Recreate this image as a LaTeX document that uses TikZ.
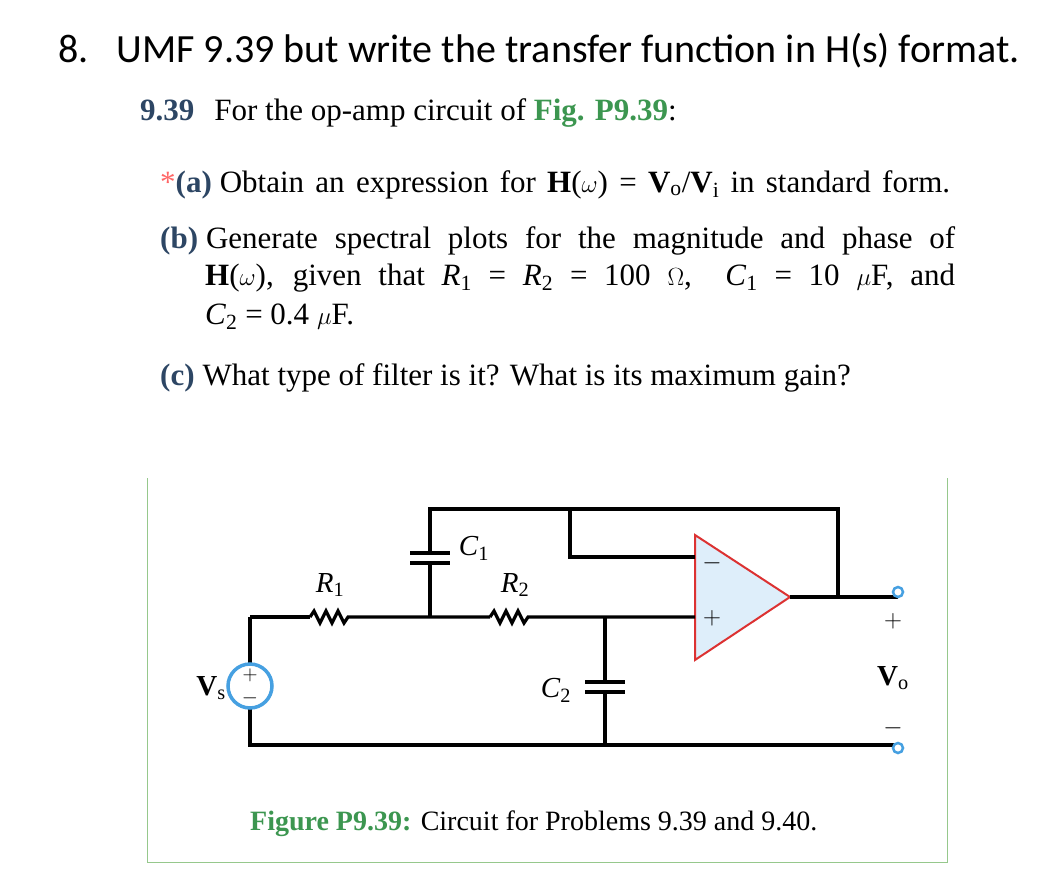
\documentclass[tikz,border=0pt]{standalone}
\usepackage{fontspec}
\setmainfont{Liberation Serif}
\newfontfamily\titlefont{Carlito}
\usetikzlibrary{calc}
\definecolor{figgreen}{RGB}{60,150,80}
\definecolor{numblue}{RGB}{45,70,100}
\definecolor{srcblue}{RGB}{70,160,225}
\definecolor{ampfill}{RGB}{222,238,250}
\definecolor{ampred}{RGB}{220,50,50}
\definecolor{framegreen}{RGB}{150,200,140}
\newcommand{\mv}[2]{\textit{#1}\textsubscript{#2}}
\newcommand{\eqs}{\ \textup{=}\ }
\begin{document}
\begin{tikzpicture}[x=1pt,y=-1pt,
  txt/.style={anchor=base west,inner sep=0pt,font=\fontsize{31}{36}\selectfont},
  wire/.style={line width=3.2pt},
  term/.style={circle,draw=srcblue,line width=2.5pt,inner sep=0pt,minimum size=10pt,fill=white},
  lab/.style={font=\fontsize{29}{34}\selectfont,inner sep=0pt}]
\useasboundingbox (0,0) rectangle (1052,894);
\node[txt,font=\titlefont\fontsize{40}{46}\selectfont] (title) at (58,62) {8.\hspace{28pt}UMF 9.39 but write the transfer function in H(s) format.};
\node[txt] (l0) at (140,120) {\textcolor{numblue}{\textbf{9.39}}\hspace{20pt}For the op-amp circuit of \textcolor{figgreen}{\textbf{Fig. P9.39}}:};
\node[txt] (la) at (160,192) {\makebox[790pt][s]{\textcolor{red!60}{*}\textcolor{numblue}{\textbf{(a)}}\hspace{8pt}Obtain an expression for \textbf{H}($\omega$)\eqs\textbf{V}\textsubscript{o}/\textbf{V}\textsubscript{i} in standard form.}};
\node[txt] (lb) at (160,248) {\makebox[795pt][s]{\textcolor{numblue}{\textbf{(b)}}\hspace{8pt}Generate spectral plots for the magnitude and phase of}};
\node[txt] (lb2) at (205,285) {\makebox[750pt][s]{\textbf{H}($\omega$), given that \mv{R}{1}\eqs\mv{R}{2}\eqs100 $\Omega$,\ \ \mv{C}{1}\eqs10 $\mu$F, and}};
\node[txt] (lb3) at (205,324) {\mv{C}{2}\eqs0.4 $\mu$F.};
\node[txt] (lc) at (160,385) {\textcolor{numblue}{\textbf{(c)}}\hspace{8pt}What type of filter is it? What is its maximum gain?};
% frame
\draw[framegreen,line width=1pt] (147,478) -- (147,862) -- (947,862) -- (947,478);
% coordinates
\coordinate (tl) at (430,509);
\coordinate (tr) at (838,509);
\coordinate (nA) at (430,617);
\coordinate (nB) at (605,617);
\coordinate (sl) at (250,617);
\coordinate (bl) at (250,745);
\coordinate (bB) at (605,745);
% opamp
\coordinate (oa) at (695,535);
\coordinate (ob) at (695,660);
\coordinate (oc) at (790,597);
\draw[ampred,line width=2pt,fill=ampfill] (oa) -- (oc) -- (ob) -- cycle;
\node[font=\fontsize{28}{30}\selectfont] (minus) at (712,563) {$-$};
\node[font=\fontsize{28}{30}\selectfont] (plus) at (712,618) {$+$};
% wires
\draw[wire] (sl) -- (310,617);
\draw[wire] (310,617) -- ++(4,-6) -- ++(6,12) -- ++(6,-12) -- ++(6,12) -- ++(6,-12) -- ++(6,12) -- ++(4,-6) -- (nA) -- (490,617);
\draw[wire] (490,617) -- ++(4,-6) -- ++(6,12) -- ++(6,-12) -- ++(6,12) -- ++(6,-12) -- ++(6,12) -- ++(4,-6) -- (nB) -- (695,617);
\draw[wire] (nA) -- (430,563);
\draw[wire] (430,553) -- (tl) -- (tr) -- (838,597);
\draw[line width=4pt] (410,553) -- (450,553) (410,563) -- (450,563);
\draw[wire] (570,509) -- (570,557) -- (695,557);
\draw[wire] (oc) -- (898,597);
\draw[wire] (nB) -- (605,682);
\draw[line width=4pt] (585,682) -- (625,682) (585,692) -- (625,692);
\draw[wire] (605,692) -- (bB);
\draw[wire] (sl) -- (250,667);
\draw[wire] (250,703) -- (bl) -- (898,745);
% source
\node[circle,draw=srcblue,line width=3.5pt,minimum size=44pt,inner sep=0pt,fill=white] (src) at (250,686) {};
\node[font=\fontsize{22}{24}\selectfont] (sp) at (250,675) {$+$};
\node[font=\fontsize{22}{24}\selectfont] (sm) at (250,698) {$-$};
\node[lab] (vs) at (211,688) {\textbf{V}\textsubscript{s}};
% terminals
\node[term] (t1) at (898,592) {};
\node[term] (t2) at (898,748) {};
\node[lab] (vop) at (893,621) {$+$};
\node[lab] (vo) at (893,678) {\textbf{V}\textsubscript{o}};
\node[lab] (vom) at (893,728) {$-$};
% labels
\node[lab] (c1) at (474,548) {\mv{C}{1}};
\node[lab] (r1) at (330,585) {\mv{R}{1}};
\node[lab] (r2) at (515,585) {\mv{R}{2}};
\node[lab] (c2) at (556,690) {\mv{C}{2}};
\node[txt,font=\fontsize{28}{32}\selectfont] (cap) at (250,830) {\textcolor{figgreen}{\textbf{Figure P9.39:}} Circuit for Problems 9.39 and 9.40.};
\end{tikzpicture}
\end{document}
